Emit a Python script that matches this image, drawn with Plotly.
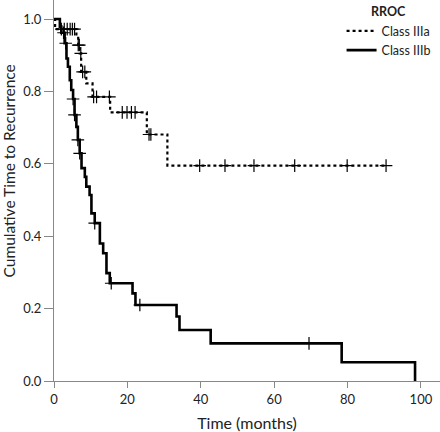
import numpy as np
import plotly.graph_objects as go

# Kaplan-Meier style step data
iiia_time = [0, 0.3, 6.1, 6.6, 7.0, 7.4, 8.8, 10.5, 15.3, 25.3, 30.9]
iiia_surv = [1.0, 0.972, 0.951, 0.928, 0.905, 0.854, 0.822, 0.785, 0.742, 0.681, 0.595]
iiia_censor = [2.0, 2.8, 3.6, 4.4, 5.0, 5.6, 6.6, 6.9, 7.3, 7.8, 8.4,
               10.8, 11.6, 15.1, 18.6, 19.9, 21.1, 22.1, 25.9, 26.4,
               39.7, 46.6, 54.5, 65.6, 79.9, 90.5]

iiib_time = [0, 1.6, 2.0, 2.9, 3.4, 3.8, 4.3, 4.7, 5.2, 5.6, 6.1, 6.5, 7.0,
             7.5, 8.4, 8.8, 9.7, 10.2, 11.1, 12.5, 13.4, 14.3, 15.2,
             21.4, 22.2, 33.4, 34.2, 42.7, 78.4, 98.4]
iiib_surv = [1.0, 0.979, 0.962, 0.933, 0.891, 0.868, 0.831, 0.804, 0.779,
             0.735, 0.702, 0.666, 0.629, 0.588, 0.564, 0.537, 0.514, 0.463,
             0.436, 0.380, 0.353, 0.298, 0.270, 0.242, 0.210, 0.178, 0.141,
             0.104, 0.052, 0.0]
iiib_censor = [2.6, 3.2, 5.2, 5.6, 6.5, 7.0, 11.1, 15.6, 23.4, 69.5]


def at(times, surv, t):
    # value of the step curve at time t
    idx = np.searchsorted(times, t, side="right") - 1
    return [surv[i] for i in idx]


fig = go.Figure()

# IIIa: dotted line, continues to the last censored case
fig.add_trace(go.Scatter(
    x=iiia_time + [iiia_censor[-1]],
    y=iiia_surv + [iiia_surv[-1]],
    mode="lines", line_shape="hv", name="Class IIIa",
    line=dict(color="black", width=2.2, dash="dot"),
))
fig.add_trace(go.Scatter(
    x=iiia_censor, y=at(iiia_time, iiia_surv, iiia_censor),
    mode="markers", showlegend=False,
    marker=dict(symbol="cross-thin", size=9, line=dict(color="black", width=1.2)),
))

fig.add_trace(go.Scatter(
    x=iiib_time, y=iiib_surv,
    mode="lines", line_shape="hv", name="Class IIIb",
    line=dict(color="black", width=2.6),
))
fig.add_trace(go.Scatter(
    x=iiib_censor, y=at(iiib_time, iiib_surv, iiib_censor),
    mode="markers", showlegend=False,
    marker=dict(symbol="cross-thin", size=9, line=dict(color="black", width=1.2)),
))

axis_font = dict(family="Lato, Open Sans, sans-serif", size=13, color="#222")

fig.update_layout(
    width=440, height=432,
    margin=dict(l=54, r=0, t=0, b=51),
    plot_bgcolor="white", paper_bgcolor="white",
    font=axis_font,
    legend=dict(
        title=dict(text="<b>RROC</b>", side="top center", font=dict(size=12.5)),
        x=0.745, y=1.0, xanchor="left", yanchor="top",
        bgcolor="rgba(0,0,0,0)", font=dict(size=12.5),
        tracegroupgap=0, itemwidth=30,
    ),
    xaxis=dict(
        range=[0, 105.2], tickvals=[0, 20, 40, 60, 80, 100],
        showgrid=False, zeroline=False, showline=True, automargin=False,
        linecolor="#888", linewidth=1, ticks="outside", ticklen=6,
        tickcolor="#888", title=dict(text="Time (months)", standoff=14),
    ),
    yaxis=dict(
        range=[0, 1.0525], tickvals=[0, 0.2, 0.4, 0.6, 0.8, 1.0],
        tickformat=".1f", showgrid=False, zeroline=False, showline=True,
        automargin=False, linecolor="#888", linewidth=1, ticks="outside",
        ticklen=9, tickcolor="#888",
    ),
    annotations=[dict(
        text="Cumulative Time to Recurrence", textangle=-90,
        xref="paper", yref="paper", x=0, y=0.55, xshift=-45,
        xanchor="center", yanchor="middle", showarrow=False,
        font=dict(size=15.5),
    )],
)

# drop the page's default body margin so the figure fills the window
fig.write_html("out.html", config={"displayModeBar": False},
               post_script="document.body.style.margin='0';")
